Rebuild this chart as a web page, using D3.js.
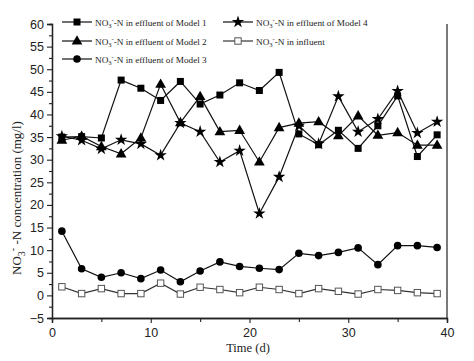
<!DOCTYPE html>
<html><head><meta charset="utf-8">
<script src="https://cdn.jsdelivr.net/npm/d3@7"></script>
<style>body{margin:0;background:#fff}</style>
</head><body>
<svg id="c" width="474" height="361"></svg>
<script>
const days = [1,3,5,7,9,11,13,15,17,19,21,23,25,27,29,31,33,35,37,39];
const model1 = [35.0,35.1,34.8,47.6,45.8,43.1,47.3,42.3,44.3,47.0,45.3,49.3,35.7,33.3,36.5,32.5,37.5,44.1,30.7,35.5];
const model2 = [34.3,35.2,32.9,31.3,34.8,46.7,38.2,44.0,36.2,36.5,29.5,37.1,38.1,38.4,35.3,39.7,35.4,36.0,33.2,33.2];
const model3 = [14.2,5.9,4.0,5.0,3.7,5.6,3.0,5.4,7.4,6.4,6.0,5.7,9.3,8.8,9.5,10.5,6.8,11.0,11.0,10.6];
const model4 = [35.2,34.3,32.4,34.4,33.5,31.0,38.1,36.2,29.5,32.0,18.1,26.2,37.5,33.5,44.0,36.2,39.0,45.2,35.9,38.4];
const influent = [1.9,0.4,1.5,0.4,0.4,2.7,0.3,1.8,1.3,0.6,1.8,1.3,0.4,1.5,0.9,0.3,1.3,1.1,0.6,0.4];
const xTicks = [0,10,20,30,40];
const yTicks = [-5,0,5,10,15,20,25,30,35,40,45,50,55,60];
const legendLabels = ["in effluent of Model 1","in effluent of Model 2","in effluent of Model 3","in effluent of Model 4","in influent"];

const svg = d3.select("#c");
const L = 52, R = 447, T = 24, B = 318;
const x = d3.scaleLinear().domain([0,40]).range([L,R]);
const y = d3.scaleLinear().domain([-5,60]).range([B,T]);

// axes
const yAxis = d3.axisLeft(y).tickValues(yTicks).tickSize(5).tickPadding(3);
svg.append("g").attr("transform",`translate(${L},0)`).call(yAxis);
const yMinor = d3.axisLeft(y).tickValues(d3.range(-2.5,60,5)).tickSize(3).tickFormat("");
svg.append("g").attr("transform",`translate(${L},0)`).call(yMinor);
const xAxis = d3.axisBottom(x).tickValues(xTicks).tickSize(5).tickPadding(5);
svg.append("g").attr("transform",`translate(0,${B})`).call(xAxis);
const xMinor = d3.axisBottom(x).tickValues([5,15,25,35]).tickSize(4).tickFormat("");
svg.append("g").attr("transform",`translate(0,${B})`).call(xMinor);
svg.selectAll(".domain").attr("stroke","#222").attr("stroke-width",1.3);
svg.selectAll(".tick line").attr("stroke","#222").attr("stroke-width",1.1);
svg.selectAll(".tick text").attr("font-family","Liberation Sans, Arial, sans-serif").attr("font-size",12.5).attr("fill","#222");
// right axis line
svg.append("line").attr("x1",R).attr("x2",R).attr("y1",T).attr("y2",B).attr("stroke","#333").attr("stroke-width",1.3);

// axis titles
svg.append("text").attr("x",248).attr("y",352).attr("text-anchor","middle")
  .attr("font-family","Liberation Serif, Times New Roman, serif").attr("font-size",12.5).attr("fill","#222").text("Time (d)");
const yt = svg.append("text").attr("transform","translate(21,198) rotate(-90)").attr("text-anchor","middle")
  .attr("font-family","Liberation Serif, Times New Roman, serif").attr("font-size",13).attr("fill","#222");
yt.append("tspan").text("NO");
yt.append("tspan").attr("dy",4).attr("font-size",10).text("3");
yt.append("tspan").attr("dy",-9).attr("font-size",10).text("-");
yt.append("tspan").attr("dy",5).text(" -N concentration (mg/l)");

// symbols
function marker(g, type, cx, cy) {
  if (type === "square") {
    g.append("rect").attr("x",cx-3.5).attr("y",cy-3.5).attr("width",7).attr("height",7).attr("fill","#000");
  } else if (type === "triangle") {
    g.append("path").attr("d",d3.symbol(d3.symbolTriangle,50)()).attr("transform",`translate(${cx},${cy+0.5})`).attr("fill","#000");
  } else if (type === "circle") {
    g.append("circle").attr("cx",cx).attr("cy",cy).attr("r",3.8).attr("fill","#000");
  } else if (type === "star") {
    g.append("path").attr("d",d3.symbol(d3.symbolStar,48)()).attr("transform",`translate(${cx},${cy})`).attr("fill","#000");
  } else if (type === "open") {
    g.append("rect").attr("x",cx-3.2).attr("y",cy-3.2).attr("width",6.4).attr("height",6.4).attr("fill","#fff").attr("stroke","#555").attr("stroke-width",1);
  }
}

const series = [
  {vals: model1, type:"square", col:"#111"},
  {vals: model2, type:"triangle", col:"#111"},
  {vals: model3, type:"circle", col:"#111"},
  {vals: model4, type:"star", col:"#111"},
  {vals: influent, type:"open", col:"#333"}
];
const line = d3.line().x((d,i)=>x(days[i])).y(d=>y(d));
series.forEach(s=>{
  svg.append("path").datum(s.vals).attr("d",line).attr("fill","none").attr("stroke",s.col).attr("stroke-width",1.2);
});
series.forEach(s=>{
  const g = svg.append("g");
  s.vals.forEach((v,i)=>marker(g, s.type, x(days[i]), y(v)));
});

// legend
const legPos = [[62,22],[62,41],[62,59],[223,22],[223,41]];
series.forEach((s,i)=>{
  const [lx,ly] = legPos[i];
  const g = svg.append("g");
  g.append("line").attr("x1",lx).attr("x2",lx+30).attr("y1",ly).attr("y2",ly).attr("stroke",s.col).attr("stroke-width",1.2);
  marker(g, s.type, lx+15, ly);
  const t = g.append("text").attr("x",lx+33).attr("y",ly+3.5)
    .attr("font-family","Liberation Serif, Times New Roman, serif").attr("font-size",9.2).attr("fill","#222");
  t.append("tspan").text("NO");
  t.append("tspan").attr("dy",2.5).attr("font-size",6.5).text("3");
  t.append("tspan").attr("dy",-6).attr("font-size",6.5).text("-");
  t.append("tspan").attr("dy",3.5).text(i < 3 ? "-N  " + legendLabels[i] : "-N " + legendLabels[i]);
});
</script>
</body></html>
